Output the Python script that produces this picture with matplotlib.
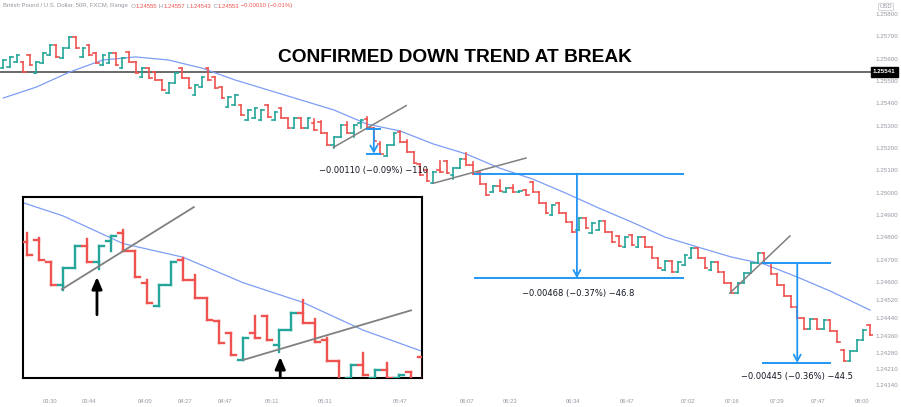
import numpy as np
import matplotlib
matplotlib.use("Agg")
import matplotlib.pyplot as plt
from matplotlib.collections import LineCollection
import matplotlib.transforms as mtransforms

# GBP/USD range bars (50R), one value per bar
opens = [
    1.25558, 1.25563, 1.25585, 1.25585, 1.25617, 1.25536, 1.25581, 1.25617, 1.25661, 1.25603,
    1.25648, 1.25697, 1.25608, 1.25661, 1.25626, 1.25572, 1.25581, 1.25626, 1.25558, 1.25630,
    1.25585, 1.25518, 1.25558, 1.25540, 1.25505, 1.25446, 1.25491, 1.25558, 1.25514, 1.25437,
    1.25473, 1.25558, 1.25518, 1.25473, 1.25384, 1.25393, 1.25393, 1.25325, 1.25334, 1.25325,
    1.25393, 1.25325, 1.25379, 1.25334, 1.25290, 1.25334, 1.25290, 1.25310, 1.25316, 1.25266,
    1.25213, 1.25251, 1.25302, 1.25266, 1.25312, 1.25331, 1.25289, 1.25217, 1.25164, 1.25213,
    1.25270, 1.25225, 1.25183, 1.25130, 1.25103, 1.25042, 1.25103, 1.25141, 1.25077, 1.25111,
    1.25149, 1.25126, 1.25088, 1.25039, 1.25001, 1.25031, 1.25001, 1.25020, 1.25001, 1.25014,
    1.25048, 1.25003, 1.24954, 1.24900, 1.24954, 1.24909, 1.24868, 1.24833, 1.24886, 1.24819,
    1.24833, 1.24873, 1.24824, 1.24806, 1.24756, 1.24810, 1.24756, 1.24801, 1.24756, 1.24707,
    1.24653, 1.24694, 1.24644, 1.24676, 1.24707, 1.24752, 1.24707, 1.24653, 1.24689, 1.24644,
    1.24595, 1.24550, 1.24595, 1.24640, 1.24685, 1.24730, 1.24685, 1.24635, 1.24586, 1.24537,
    1.24488, 1.24438, 1.24389, 1.24434, 1.24389, 1.24429, 1.24380, 1.24295, 1.24246, 1.24291,
    1.24340, 1.24407]
closes = [
    1.25594, 1.25608, 1.25617, 1.25540, 1.25572, 1.25585, 1.25626, 1.25661, 1.25608, 1.25648,
    1.25697, 1.25648, 1.25648, 1.25617, 1.25581, 1.25617, 1.25626, 1.25572, 1.25603, 1.25585,
    1.25536, 1.25558, 1.25514, 1.25505, 1.25460, 1.25491, 1.25536, 1.25514, 1.25469, 1.25482,
    1.25518, 1.25505, 1.25469, 1.25424, 1.25428, 1.25437, 1.25348, 1.25370, 1.25379, 1.25370,
    1.25339, 1.25361, 1.25334, 1.25290, 1.25334, 1.25290, 1.25334, 1.25281, 1.25269, 1.25213,
    1.25251, 1.25302, 1.25266, 1.25302, 1.25325, 1.25289, 1.25232, 1.25171, 1.25213, 1.25266,
    1.25225, 1.25183, 1.25133, 1.25080, 1.25054, 1.25092, 1.25092, 1.25088, 1.25111, 1.25149,
    1.25126, 1.25084, 1.25039, 1.24989, 1.25031, 1.25008, 1.25020, 1.25001, 1.25008, 1.24989,
    1.25003, 1.24954, 1.24909, 1.24945, 1.24909, 1.24868, 1.24824, 1.24886, 1.24842, 1.24864,
    1.24873, 1.24824, 1.24779, 1.24761, 1.24801, 1.24765, 1.24801, 1.24756, 1.24707, 1.24662,
    1.24694, 1.24644, 1.24689, 1.24721, 1.24752, 1.24707, 1.24662, 1.24689, 1.24644, 1.24595,
    1.24550, 1.24595, 1.24640, 1.24685, 1.24730, 1.24685, 1.24635, 1.24586, 1.24537, 1.24488,
    1.24438, 1.24389, 1.24434, 1.24389, 1.24429, 1.24380, 1.24331, 1.24246, 1.24291, 1.24340,
    1.24385, 1.24362]

# wicks of bars 47..79 (the zoomed part)
wick_start = 47
wick_hi = [1.25332, 1.25319, 1.25266, 1.25251, 1.25302, 1.25317, 1.25302, 1.25325, 1.25337, 1.25289,
           1.25225, 1.25213, 1.25266, 1.25275, 1.25236, 1.25183, 1.25130, 1.25103, 1.25092, 1.25141,
           1.25141, 1.25111, 1.25149, 1.25179, 1.25136, 1.25092, 1.25039, 1.25031, 1.25058, 1.25020,
           1.25035, 1.25008, 1.25014]
wick_lo = [1.25281, 1.25269, 1.25213, 1.25202, 1.25251, 1.25266, 1.25249, 1.25289, 1.25289, 1.25232,
           1.25171, 1.25164, 1.25213, 1.25225, 1.25183, 1.25133, 1.25080, 1.25054, 1.25042, 1.25092,
           1.25088, 1.25061, 1.25111, 1.25126, 1.25084, 1.25039, 1.24989, 1.25001, 1.25008, 1.25001,
           1.25001, 1.25001, 1.24989]

# moving average, read every 5 bars
ma_idx = [0, 5, 10, 15, 20, 25, 30, 35, 40, 45, 50, 55, 60, 65, 70, 75, 80, 85, 90, 95,
          100, 105, 110, 115, 120, 125, 131]
ma_val = [1.25424, 1.25473, 1.25540, 1.25594, 1.25608, 1.25594, 1.25558, 1.25505, 1.25460, 1.25415,
          1.25370, 1.25307, 1.25276, 1.25218, 1.25173, 1.25110, 1.25061, 1.24998, 1.24931, 1.24868,
          1.24801, 1.24756, 1.24712, 1.24680, 1.24622, 1.24559, 1.24474]

support = 1.25541
trendlines = [((49.9, 1.25203), (60.9, 1.25390)),
              ((65.0, 1.25042), (79.0, 1.25155)),
              ((109.8, 1.24550), (118.9, 1.24806))]
# measures: bar from, bar to, arrow bar, top, bottom, label
measures = [(55.0, 57.0, 56.0, 1.25285, 1.25175, "\u22120.00110 (\u22120.09%) \u2212110"),
            (71.3, 102.7, 86.7, 1.25085, 1.24617, "\u22120.00468 (\u22120.37%) \u221246.8"),
            (114.8, 125.0, 120.0, 1.24683, 1.24238, "\u22120.00445 (\u22120.36%) \u221244.5")]
label_pos = [(56.0, 1.25101), (86.9, 1.24550), (120.0, 1.24178)]

price_ticks = [1.25800, 1.25700, 1.25600, 1.25500, 1.25400, 1.25300, 1.25200, 1.25100, 1.25000,
               1.24900, 1.24800, 1.24700, 1.24600, 1.24520, 1.24440, 1.24360, 1.24280, 1.24210, 1.24140]
time_pos = [7, 13, 21.4, 27.5, 33.5, 40.6, 48.6, 60, 70.1, 76.6, 86.1, 94.3, 103.5, 110.1, 116.9, 123.1, 129.8]
time_lab = ["03:30", "03:44", "04:00", "04:27", "04:47", "05:11", "05:31", "05:47", "06:07",
            "06:23", "06:34", "06:47", "07:02", "07:16", "07:29", "07:47", "08:00"]
inset_arrows = [(52.83, 1.25145, 1.25231), (68.1, 1.25003, 1.25049)]

GREEN = "#26a69a"
RED = "#ef5350"
BLUE = "#2196f3"
MA_COL = "#7d9ef6"
TL_COL = "#808080"
AXIS_COL = "#9598a1"

o = np.array(opens)
c = np.array(closes)
hi = np.maximum(o, c)
lo = np.minimum(o, c)
n_w = len(wick_hi)
hi[wick_start:wick_start + n_w] = np.maximum(hi[wick_start:wick_start + n_w], wick_hi)
lo[wick_start:wick_start + n_w] = np.minimum(lo[wick_start:wick_start + n_w], wick_lo)


def draw_bars(ax, tick, lw):
    segs, cols = [], []
    for k in range(len(o)):
        col = GREEN if c[k] >= o[k] else RED
        segs += [[(k, lo[k]), (k, hi[k])],
                 [(k - tick, o[k]), (k, o[k])],
                 [(k, c[k]), (k + tick, c[k])]]
        cols += [col] * 3
    ax.add_collection(LineCollection(segs, colors=cols, linewidths=lw,
                                     capstyle="projecting", zorder=3))


W, H = 901, 407
fig = plt.figure(figsize=(W / 100, H / 100), dpi=100)
plt.rcParams["font.family"] = ["DejaVu Sans"]

ax = fig.add_axes([0, 15 / H, 873 / W, 392 / H])
ax.set_xlim(-0.5, 131.45)
ax.set_ylim(1.24107, 1.25863)
for s in ax.spines.values():
    s.set_visible(False)

ax.axhline(support, color="#5e5e5e", lw=1.3, zorder=1)
draw_bars(ax, 0.4, 1.2)
ax.plot(ma_idx, ma_val, color=MA_COL, lw=0.9, zorder=2)
for (x0, y0), (x1, y1) in trendlines:
    ax.plot([x0, x1], [y0, y1], color=TL_COL, lw=1.1, zorder=4)

for (xa, xb, xm, top, bot, txt), (tx, ty) in zip(measures, label_pos):
    ax.plot([xa, xb], [top, top], color=BLUE, lw=1.4, zorder=5)
    ax.plot([xa, xb], [bot, bot], color=BLUE, lw=1.4, zorder=5)
    ax.annotate("", xy=(xm, bot), xytext=(xm, top),
                arrowprops=dict(arrowstyle="->,head_length=0.45,head_width=0.25",
                                color=BLUE, lw=1.3, shrinkA=0, shrinkB=0), zorder=5)
    ax.text(tx, ty, txt, ha="center", va="center", fontsize=6, color="#131722", zorder=6)

ax.yaxis.tick_right()
ax.set_yticks(price_ticks)
ax.set_yticklabels([f"{v:.5f}" for v in price_ticks], family="Liberation Sans")
ax.tick_params(axis="y", length=0, pad=1.5, labelsize=4.5, labelcolor=AXIS_COL)
ax.set_xticks(time_pos)
ax.set_xticklabels(time_lab, family="Liberation Sans")
ax.tick_params(axis="x", length=0, pad=5, labelsize=4.2, labelcolor=AXIS_COL)

blend = mtransforms.blended_transform_factory(ax.transAxes, ax.transData)
ax.text(1.0, support, "1.25541", transform=blend, ha="left", va="center", fontsize=4.5,
        family="Liberation Sans", color="white", fontweight="bold",
        bbox=dict(boxstyle="square,pad=0.35", fc="black", ec="black"), zorder=7)

fig.text(455 / W, 1 - 58 / H, "CONFIRMED DOWN TREND AT BREAK", fontsize=13.8,
         fontweight="bold", family="Liberation Sans", ha="center", va="center")
fig.text(886 / W, 1 - 7 / H, "USD", fontsize=4.2, color=AXIS_COL, ha="center", va="center",
         family="Liberation Sans",
         bbox=dict(boxstyle="round,pad=0.2", fc="white", ec="#c8cad0", lw=0.6))

# header line, pieces in two colours
renderer = fig.canvas.get_renderer()
pieces = [("British Pound / U.S. Dollar, 50R, FXCM, Range", AXIS_COL), ("  O", AXIS_COL),
          ("1.24555", RED), (" H", AXIS_COL), ("1.24557", RED), (" L", AXIS_COL),
          ("1.24543", RED), (" C", AXIS_COL), ("1.24553", RED),
          (" \u22120.00010 (\u22120.01%)", RED)]
xp = 3
for txt, col in pieces:
    t = fig.text(xp / W, 1 - 6 / H, txt, fontsize=4.3, color=col, ha="left", va="center",
                 family="Liberation Sans")
    xp += t.get_window_extent(renderer).width

# zoomed inset of the first two breaks
iax = fig.add_axes([22.7 / W, (407 - 378) / H, 399 / W, 181 / H], zorder=10)
iax.set_facecolor("white")
iax.set_xlim(46.64, 79.89)
iax.set_ylim(1.25001, 1.25413)
draw_bars(iax, 0.42, 1.7)
iax.plot(ma_idx, ma_val, color=MA_COL, lw=0.9, zorder=2)
for (x0, y0), (x1, y1) in trendlines[:2]:
    iax.plot([x0, x1], [y0, y1], color=TL_COL, lw=1.3, zorder=4)
for xa, y0, y1 in inset_arrows:
    iax.annotate("", xy=(xa, y1), xytext=(xa, y0),
                 arrowprops=dict(arrowstyle="-|>,head_length=0.7,head_width=0.3",
                                 color="black", lw=2, shrinkA=0, shrinkB=0), zorder=6)
iax.set_xticks([])
iax.set_yticks([])
for s in iax.spines.values():
    s.set_color("black")
    s.set_linewidth(1.5)

fig.savefig("out.png", dpi=100, facecolor="white")
